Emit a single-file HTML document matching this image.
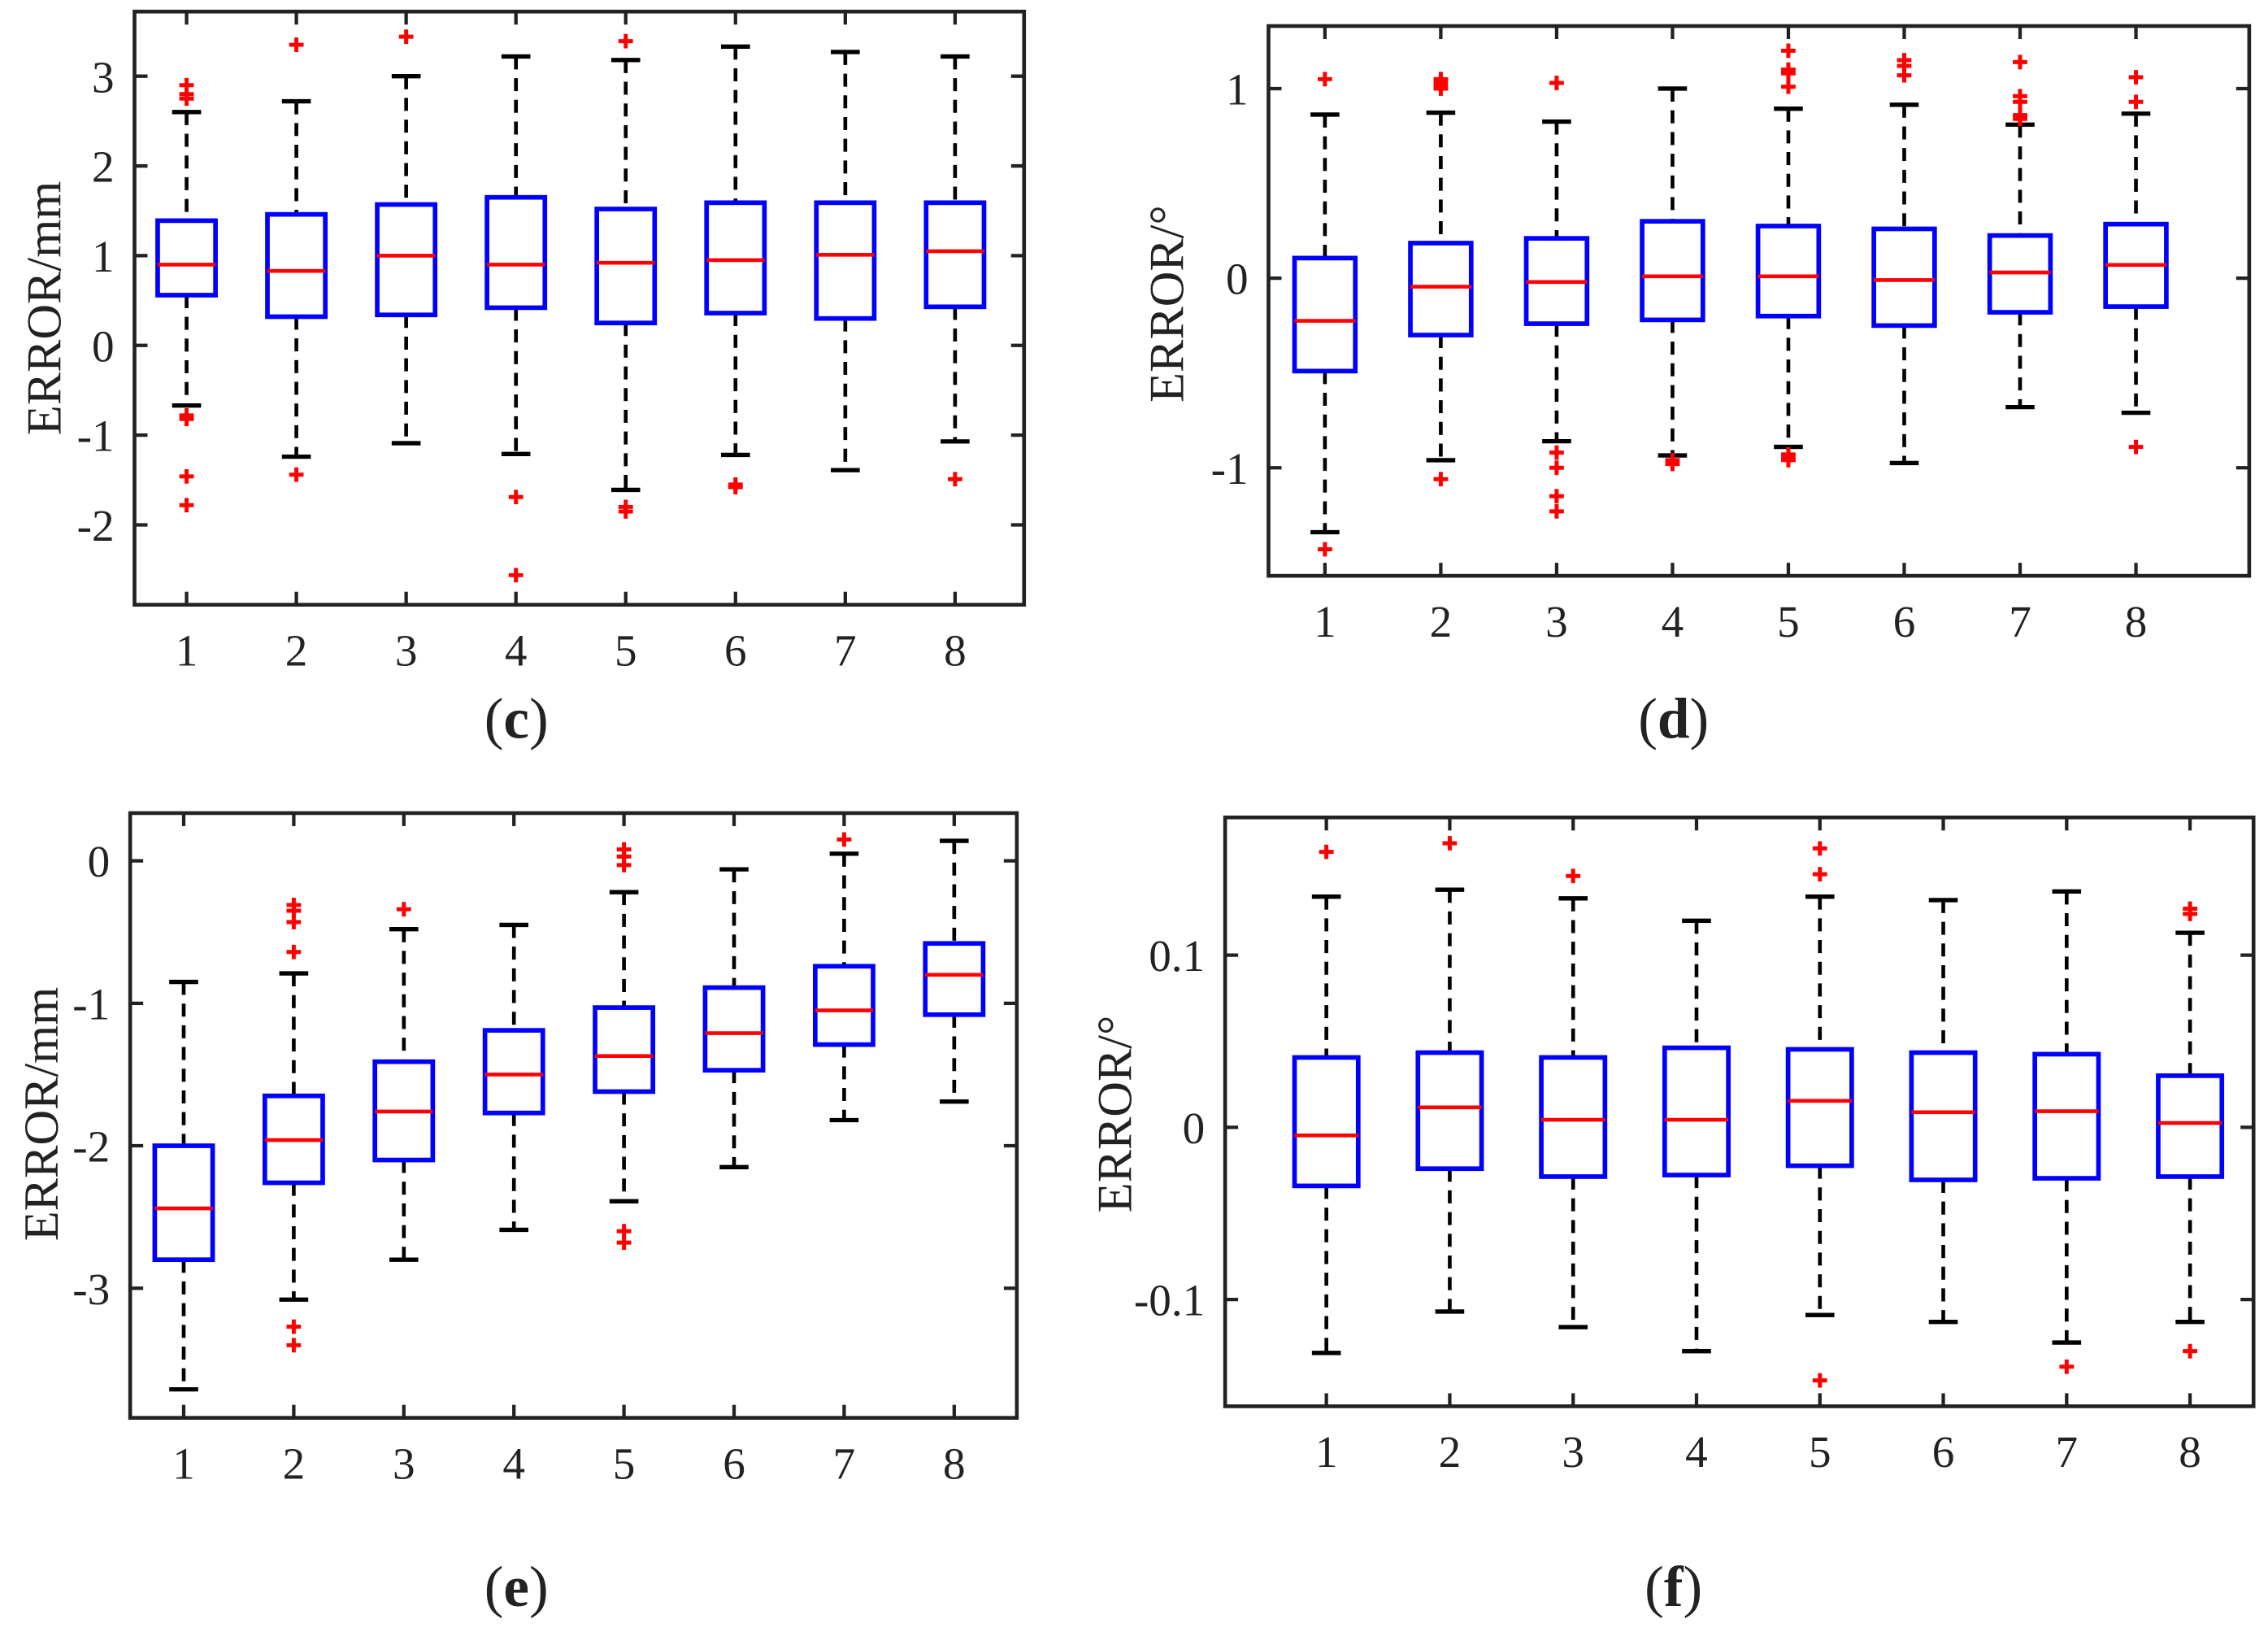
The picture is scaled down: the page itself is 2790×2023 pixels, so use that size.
<!DOCTYPE html>
<html><head><meta charset="utf-8"><style>
html,body{margin:0;padding:0;background:#fff;}
svg{display:block;}
text{font-family:"Liberation Serif",serif;fill:#222;}
</style></head>
<body>
<svg id="fig" width="2790" height="2023" viewBox="0 0 1568 1137" preserveAspectRatio="none" xmlns="http://www.w3.org/2000/svg"></svg>
<script>
// Categories shared by all panels
const categories = [1,2,3,4,5,6,7,8];

// Panel (c)
const cMed = [0.9,0.83,1.0,0.9,0.92,0.95,1.01,1.05];
const cQ1 = [0.56,0.32,0.34,0.42,0.25,0.36,0.3,0.43];
const cQ3 = [1.39,1.46,1.57,1.65,1.52,1.59,1.59,1.59];
const cHi = [2.6,2.72,3.0,3.22,3.18,3.33,3.27,3.22];
const cLo = [-0.67,-1.24,-1.09,-1.21,-1.61,-1.22,-1.39,-1.07];
const cOut = [[2.9,2.8,2.75,-0.78,-0.82,-1.46,-1.78],[3.35,-1.44],[3.44],[-1.69,-2.56],[3.39,-1.8,-1.85],[-1.55,-1.58],[],[-1.49]];
const cTicks = [3,2,1,0,-1,-2];
const cTickLabels = ["3","2","1","0","-1","-2"];

// Panel (d)
const dMed = [-0.225,-0.045,-0.02,0.01,0.01,-0.01,0.03,0.07];
const dQ1 = [-0.49,-0.30,-0.24,-0.22,-0.2,-0.25,-0.18,-0.15];
const dQ3 = [0.106,0.185,0.21,0.3,0.275,0.26,0.225,0.285];
const dHi = [0.863,0.873,0.826,1.0,0.894,0.915,0.81,0.868];
const dLo = [-1.34,-0.96,-0.86,-0.935,-0.89,-0.975,-0.68,-0.71];
const dOut = [[1.05,-1.43],[1.0,1.02,1.04,1.05,-1.06],[1.03,-0.92,-1.0,-1.15,-1.23],[-0.96,-0.98],[1.2,1.1,1.08,1.01,-0.93,-0.95,-0.96],[1.15,1.12,1.07],[1.14,0.96,0.93,0.86,0.84],[1.06,0.93,-0.89]];
const dTicks = [1,0,-1];
const dTickLabels = ["1","0","-1"];

// Panel (e)
const eMed = [-2.44,-1.96,-1.76,-1.50,-1.37,-1.21,-1.05,-0.80];
const eQ1 = [-2.80,-2.26,-2.10,-1.77,-1.62,-1.47,-1.29,-1.08];
const eQ3 = [-2.0,-1.65,-1.41,-1.19,-1.03,-0.89,-0.74,-0.58];
const eHi = [-0.85,-0.79,-0.48,-0.45,-0.22,-0.06,0.05,0.14];
const eLo = [-3.71,-3.08,-2.80,-2.59,-2.39,-2.15,-1.82,-1.69];
const eOut = [[],[-0.31,-0.35,-0.43,-0.64,-3.27,-3.4],[-0.34],[],[0.08,0.03,-0.03,-2.6,-2.68],[],[0.15],[]];
const eTicks = [0,-1,-2,-3];
const eTickLabels = ["0","-1","-2","-3"];

// Panel (f)
const fMed = [-0.0047,0.0116,0.0044,0.0044,0.0154,0.0088,0.0094,0.0025];
const fQ1 = [-0.034,-0.024,-0.0286,-0.0277,-0.0223,-0.0305,-0.0296,-0.0286];
const fQ3 = [0.0406,0.0434,0.0406,0.0462,0.0453,0.0434,0.0425,0.030];
const fHi = [0.134,0.138,0.133,0.120,0.134,0.132,0.137,0.113];
const fLo = [-0.131,-0.107,-0.116,-0.130,-0.109,-0.113,-0.125,-0.113];
const fOut = [[0.160],[0.165],[0.146],[],[0.162,0.147,-0.147],[],[-0.139],[0.127,0.124,-0.130]];
const fTicks = [0.1,0,-0.1];
const fTickLabels = ["0.1","0","-0.1"];

const NS = "http://www.w3.org/2000/svg";
const svg = document.getElementById('fig');
function mk(tag, attrs, parent){
  const e = document.createElementNS(NS, tag);
  for (const k in attrs) e.setAttribute(k, attrs[k]);
  (parent||svg).appendChild(e);
  return e;
}

function panel(cfg){
  const g = mk('g', {});
  
  
  const y = v => cfg.y0 - (v - cfg.vmin) / (cfg.vmax - cfg.vmin) * (cfg.y0 - cfg.y1);
  const x = c => cfg.xFirst + (c - 1) * cfg.step;
  cfg.ticks.forEach((t, i) => {
    const ty = y(t);
    const tl = mk('line', {x1:cfg.L, x2:cfg.L+9, y1:ty, y2:ty, stroke:'#222','stroke-width':2.4}, g);
    
    
    mk('line', {x1:cfg.R, x2:cfg.R-9, y1:ty, y2:ty, stroke:'#222','stroke-width':2.4}, g);
    const lab = mk('text', {x:cfg.L-14, y:ty+11, 'text-anchor':'end', 'font-size':31}, g);
    lab.textContent = cfg.tickLabels[i];
    
    
  });
  categories.forEach((c, i) => {
    const cx = x(c);
    mk('line', {x1:cx, x2:cx, y1:cfg.y0, y2:cfg.y0-9, stroke:'#222','stroke-width':2.4}, g);
    mk('line', {x1:cx, x2:cx, y1:cfg.y1, y2:cfg.y1+9, stroke:'#222','stroke-width':2.4}, g);
    const lab = mk('text', {x:cx, y:cfg.y0+42, 'text-anchor':'middle', 'font-size':31}, g);
    lab.textContent = String(c);
    
    
    const bg = mk('g', {}, g);
    
    
    const hw = cfg.bw / 2;
    mk('line', {x1:cx, x2:cx, y1:y(cfg.hi[i]), y2:y(cfg.q3[i]), stroke:'#000','stroke-width':2.6,'stroke-dasharray':'9,6'}, bg);
    mk('line', {x1:cx, x2:cx, y1:y(cfg.q1[i]), y2:y(cfg.lo[i]), stroke:'#000','stroke-width':2.6,'stroke-dasharray':'9,6'}, bg);
    mk('line', {x1:cx-10, x2:cx+10, y1:y(cfg.hi[i]), y2:y(cfg.hi[i]), stroke:'#000','stroke-width':3}, bg);
    mk('line', {x1:cx-10, x2:cx+10, y1:y(cfg.lo[i]), y2:y(cfg.lo[i]), stroke:'#000','stroke-width':3}, bg);
    mk('rect', {x:cx-hw, y:y(cfg.q3[i]), width:cfg.bw, height:y(cfg.q1[i])-y(cfg.q3[i]), fill:'#fff', stroke:'#0000ff','stroke-width':3.2}, bg);
    mk('line', {x1:cx-hw, x2:cx+hw, y1:y(cfg.med[i]), y2:y(cfg.med[i]), stroke:'#ff0000','stroke-width':2.6}, bg);
    cfg.out[i].forEach(v => {
      const oy = y(v);
      const p = mk('path', {d:`M${cx-5},${oy}H${cx+5}M${cx},${oy-5}V${oy+5}`, stroke:'#ff0000','stroke-width':2.8, fill:'none'}, bg);
      
      
    });
  });
  const frame = mk('rect', {x:cfg.L, y:cfg.y1, width:cfg.R-cfg.L, height:cfg.y0-cfg.y1, fill:'none', stroke:'#222','stroke-width':2.6}, g);
  
  
  const yl = mk('text', {x:0, y:0, 'text-anchor':'middle', 'font-size':34, transform:`translate(${cfg.ylx},${cfg.yly}) rotate(-90)`}, g);
  yl.textContent = cfg.ylabel;
  
  
  const pl = mk('text', {x:cfg.plx, y:cfg.ply, 'text-anchor':'middle', 'font-size':40}, g);
  pl.innerHTML = '(<tspan font-weight="bold">' + cfg.id + '</tspan>)';
  
  
}

panel({id:'c', L:93, R:708, y1:8, y0:418, vmin:-2.89, vmax:3.72, xFirst:129, step:75.9, bw:40,
  med:cMed,q1:cQ1,q3:cQ3,hi:cHi,lo:cLo,out:cOut,ticks:cTicks,tickLabels:cTickLabels,
  ylabel:'ERROR/mm', ylx:42, yly:213, plx:357, ply:510});
panel({id:'d', L:877, R:1555, y1:18, y0:398, vmin:-1.57, vmax:1.33, xFirst:916, step:80.1, bw:42,
  med:dMed,q1:dQ1,q3:dQ3,hi:dHi,lo:dLo,out:dOut,ticks:dTicks,tickLabels:dTickLabels,
  ylabel:'ERROR/°', ylx:818, yly:210, plx:1157, ply:510});
panel({id:'e', L:90, R:703, y1:562, y0:980, vmin:-3.91, vmax:0.335, xFirst:127, step:76.1, bw:40,
  med:eMed,q1:eQ1,q3:eQ3,hi:eHi,lo:eLo,out:eOut,ticks:eTicks,tickLabels:eTickLabels,
  ylabel:'ERROR/mm', ylx:40, yly:770, plx:357, ply:1110});
panel({id:'f', L:847, R:1558, y1:565, y0:972, vmin:-0.162, vmax:0.180, xFirst:917, step:85.3, bw:44,
  med:fMed,q1:fQ1,q3:fQ3,hi:fHi,lo:fLo,out:fOut,ticks:fTicks,tickLabels:fTickLabels,
  ylabel:'ERROR/°', ylx:782, yly:770, plx:1157, ply:1110});
</script>
</body></html>
